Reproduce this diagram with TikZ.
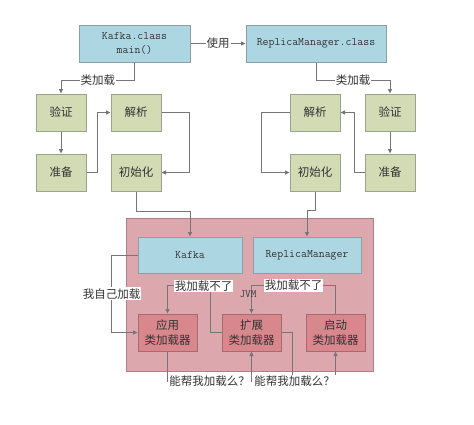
\documentclass[tikz,border=0pt]{standalone}
\usepackage{fontspec}
\setmainfont{Noto Sans CJK SC}
\usetikzlibrary{positioning,arrows.meta}
\definecolor{clsblue}{HTML}{ADD6E3}
\definecolor{clsline}{HTML}{8C9FA8}
\definecolor{stepgreen}{HTML}{D3DBB5}
\definecolor{stepline}{HTML}{9BA38C}
\definecolor{jvmpink}{HTML}{DDA8AD}
\definecolor{jvmline}{HTML}{B08088}
\definecolor{ldrred}{HTML}{D8878D}
\definecolor{ldrline}{HTML}{A86A70}
\definecolor{connline}{HTML}{767676}
\definecolor{txt}{HTML}{333333}

\begin{document}
\begin{tikzpicture}[x=1pt,y=-1pt,
    cls/.style={draw=clsline,fill=clsblue,line width=1pt,text=txt,align=center,font=\ttfamily\fontsize{11.5}{14}\selectfont},
    stepbox/.style={draw=stepline,fill=stepgreen,line width=1pt,minimum width=50pt,minimum height=37pt,text=txt,font=\fontsize{11.5}{14}\selectfont},
    ldr/.style={draw=ldrline,fill=ldrred,line width=1pt,minimum width=59pt,minimum height=37pt,align=center,text=txt,font=\fontsize{11.5}{15}\selectfont},
    lbl/.style={fill=white,inner sep=1pt,text=txt,font=\fontsize{11.5}{14}\selectfont},
    conn/.style={draw=connline,line width=0.9pt,-{Triangle[length=4.5pt,width=4pt]}}]
        \useasboundingbox[fill=white] (0,0) rectangle (474,424);
        \node[cls,minimum width=111pt,minimum height=37pt] (kc) at (134.5,43.5) {Kafka.class\\main()};
        \node[cls,minimum width=140pt,minimum height=37pt] (rc) at (316,43.5) {ReplicaManager.class};
        \node[stepbox] (v1) at (61,112.5) {验证};
        \node[stepbox,right=24pt of v1] (j1) {解析};
        \node[stepbox,below=22pt of v1] (z1) {准备};
        \node[stepbox,below=22pt of j1] (c1) {初始化};
        \node[stepbox] (v2) at (390,112.5) {验证};
        \node[stepbox,left=24pt of v2] (j2) {解析};
        \node[stepbox,below=22pt of v2] (z2) {准备};
        \node[stepbox,below=22pt of j2] (c2) {初始化};
        \node[draw=jvmline,fill=jvmpink,line width=1pt,minimum width=247pt,minimum height=153pt] (jvm) at (249.5,294.5) {};
        \node[cls,minimum width=104pt,minimum height=36pt] (kf) at (190,255) {Kafka};
        \node[cls,minimum width=108pt,minimum height=36pt] (rm) at (307,255) {ReplicaManager};
        \node[ldr] (yy) at (167.5,332.5) {应用\\类加载器};
        \node[ldr,right=24pt of yy] (kz) {扩展\\类加载器};
        \node[ldr,right=24pt of kz] (qd) {启动\\类加载器};
        % class loading, left and right
        \draw[conn] (kc.east) -- node[lbl] (u1) {使用} (rc.west);
        \draw[conn] (kc.south) -- ++(0,18) -| node[lbl,pos=0.25] (l1) {类加载} (v1.north);
        \draw[conn] (v1) -- (z1);
        \draw[conn] (z1.east) -- ++(11,0) |- (j1.west);
        \draw[conn] (j1.east) -- ++(28,0) |- (c1.east);
        \draw[conn] (c1.south) -- ++(0,20) -| (kf.north);
        \draw[conn] (rc.south) -- ++(0,18) -| node[lbl,pos=0.25] (l2) {类加载} (v2.north);
        \draw[conn] (v2) -- (z2);
        \draw[conn] (z2.west) -- ++(-10,0) |- (j2.east);
        \draw[conn] (j2.west) -- ++(-28,0) |- (c2.west);
        \draw[conn] (c2.south) -- ++(0,19) -| (rm.north);
        % delegation inside the JVM
        \draw[conn] (kf.west) -- ++(-26,0) |- node[lbl,pos=0.25] (l3) {我自己加载} (yy.west);
        \draw[conn] (kz.west) -- ++(-11,0) -- ++(0,-47) -| (yy.north);
        \node[lbl] (l4) at (203.5,286) {我加载不了};
        \draw[conn] (qd.north) -- ++(0,-28) -| node[lbl,pos=0.25] (l5) {我加载不了} (kz.north);
        \draw[conn] (yy.south) -- ++(0,30) -| node[lbl,pos=0.25] (l6) {能帮我加载么？} (kz.south);
        \draw[conn] (kz.east) -- ++(11,0) -- ++(0,48) -| (qd.south);
        \node[lbl] (l7) at (294.5,381) {能帮我加载么？};
        \node[text=txt,font=\ttfamily\fontsize{11}{13}\selectfont] (jl) at (248,294) {JVM};
    \end{tikzpicture}
\end{document}
